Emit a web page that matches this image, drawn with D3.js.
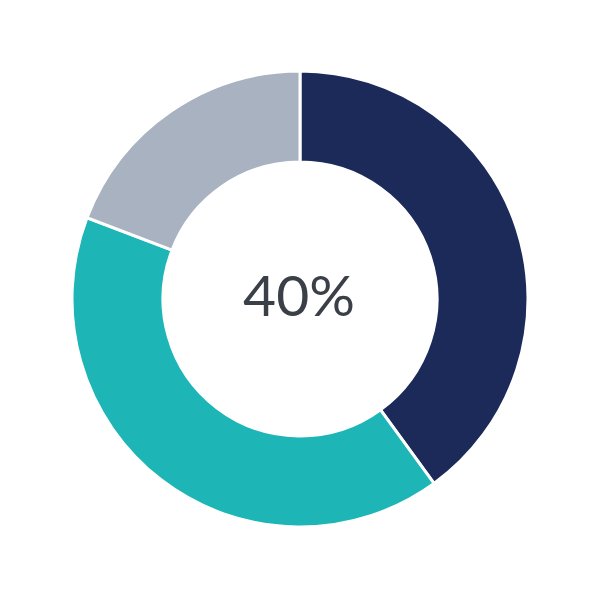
<!DOCTYPE html>
<html>
<head>
<meta charset="utf-8">
<script src="https://cdn.jsdelivr.net/npm/d3@7"></script>
<style>
  html, body { margin: 0; padding: 0; background: #fff; }
  svg { display: block; }
</style>
</head>
<body>
<svg id="chart" width="600" height="600"></svg>
<script>
// Data ------------------------------------------
var categories = ["A", "B", "C"];
var values = [40, 40.8, 19.2];
var colors = ["#1c2a5a", "#1db5b6", "#a8b2c0"];
var centerLabel = "40%";

var svg = d3.select("#chart");
var cx = 300, cy = 299;
var outer = 228, inner = 137;

var color = d3.scaleOrdinal()
    .domain(categories)
    .range(colors);

var pie = d3.pie()
    .sort(null)
    .value(function(d, i) { return values[i]; });

var arc = d3.arc()
    .innerRadius(inner)
    .outerRadius(outer);

var g = svg.append("g")
    .attr("transform", "translate(" + cx + "," + cy + ")");

g.selectAll("path")
    .data(pie(categories))
    .enter()
    .append("path")
    .attr("d", arc)
    .attr("fill", function(d) { return color(d.data); })
    .attr("stroke", "#fff")
    .attr("stroke-width", 3);

g.append("text")
    .attr("x", -1)
    .attr("y", 17)
    .attr("text-anchor", "middle")
    .attr("font-family", "Lato, 'Open Sans', sans-serif")
    .attr("font-weight", 400)
    .attr("font-size", 57)
    .attr("fill", "#3a3f48")
    .text(centerLabel);
</script>
</body>
</html>
